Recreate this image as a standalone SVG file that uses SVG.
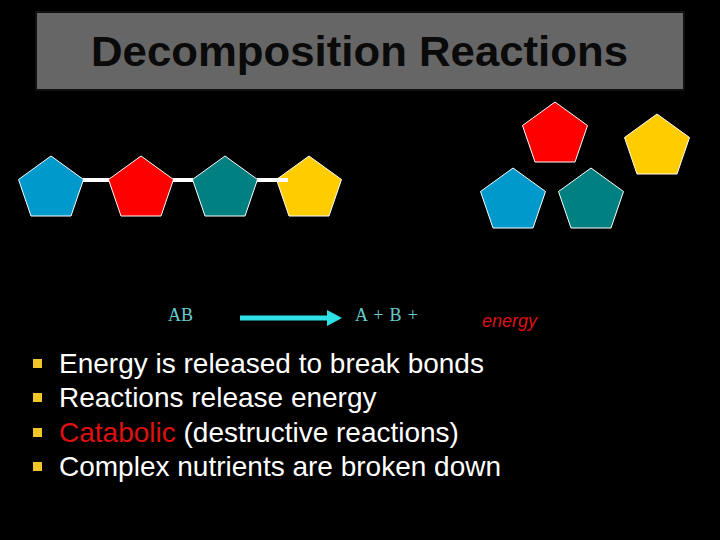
<svg xmlns="http://www.w3.org/2000/svg" xmlns:xlink="http://www.w3.org/1999/xlink" width="720" height="540" viewBox="0 0 720 540">
<style>
.pent{stroke:#ffffff;stroke-width:1}
.bond{stroke:#ffffff;stroke-width:4}
.eq{font-family:"Liberation Serif",serif;font-size:18px;fill:#66cccc}
.body{font-family:"Liberation Sans",Arial,sans-serif;font-size:28px;fill:#ffffff}
.bullet{fill:#f2c628}
</style>
<defs>
<path id="pent" d="M0,0 L32.5,23.5 L20,60 L-20,60 L-32.5,23.5 Z"/>
</defs>
<rect x="0" y="0" width="720" height="540" fill="#000000"/>
<g id="title">
<rect x="36" y="12" width="648" height="78" fill="#666666" stroke="#111111" stroke-width="2"/>
<text x="91" y="66" textLength="537" lengthAdjust="spacingAndGlyphs" font-family="Liberation Sans,Arial,sans-serif" font-size="42" font-weight="bold" fill="#0a0a0a">Decomposition Reactions</text>
</g>
<g id="molecule-AB">
<use xlink:href="#pent" href="#pent" x="51" y="156" class="pent" fill="#0099cc"/>
<use xlink:href="#pent" href="#pent" x="141" y="156" class="pent" fill="#ff0000"/>
<use xlink:href="#pent" href="#pent" x="225" y="156" class="pent" fill="#008080"/>
<use xlink:href="#pent" href="#pent" x="309" y="156" class="pent" fill="#ffcc00"/>
</g>
<g id="connectors">
<line class="bond" x1="83" y1="180" x2="109" y2="180"/>
<line class="bond" x1="173" y1="180" x2="193" y2="180"/>
<line class="bond" x1="257" y1="180" x2="288" y2="180"/>
<line x1="240" y1="318" x2="329" y2="318" stroke="#2ee0e6" stroke-width="5"/>
<polygon points="327,310 342,318 327,326" fill="#2ee0e6"/>
</g>
<g id="products">
<use xlink:href="#pent" href="#pent" x="555" y="102" class="pent" fill="#ff0000"/>
<use xlink:href="#pent" href="#pent" x="657" y="114" class="pent" fill="#ffcc00"/>
<use xlink:href="#pent" href="#pent" x="513" y="168" class="pent" fill="#0099cc"/>
<use xlink:href="#pent" href="#pent" x="591" y="168" class="pent" fill="#008080"/>
</g>
<g id="equation">
<text class="eq" x="168" y="321">AB</text>
<text class="eq" x="355" y="321" xml:space="preserve" textLength="63" lengthAdjust="spacing">A + B +</text>
<text x="482" y="327" font-family="Liberation Sans,Arial,sans-serif" font-size="18" font-style="italic" fill="#dd1111">energy</text>
</g>
<g id="bullets">
<rect class="bullet" x="33" y="359" width="9" height="9"/>
<rect class="bullet" x="33" y="393" width="9" height="9"/>
<rect class="bullet" x="33" y="428" width="9" height="9"/>
<rect class="bullet" x="33" y="462" width="9" height="9"/>
<text class="body" x="59" y="373">Energy is released to break bonds</text>
<text class="body" x="59" y="407">Reactions release energy</text>
<text class="body" x="59" y="442"><tspan fill="#dd1111">Catabolic</tspan> (destructive reactions)</text>
<text class="body" x="59" y="476">Complex nutrients are broken down</text>
</g>
</svg>
